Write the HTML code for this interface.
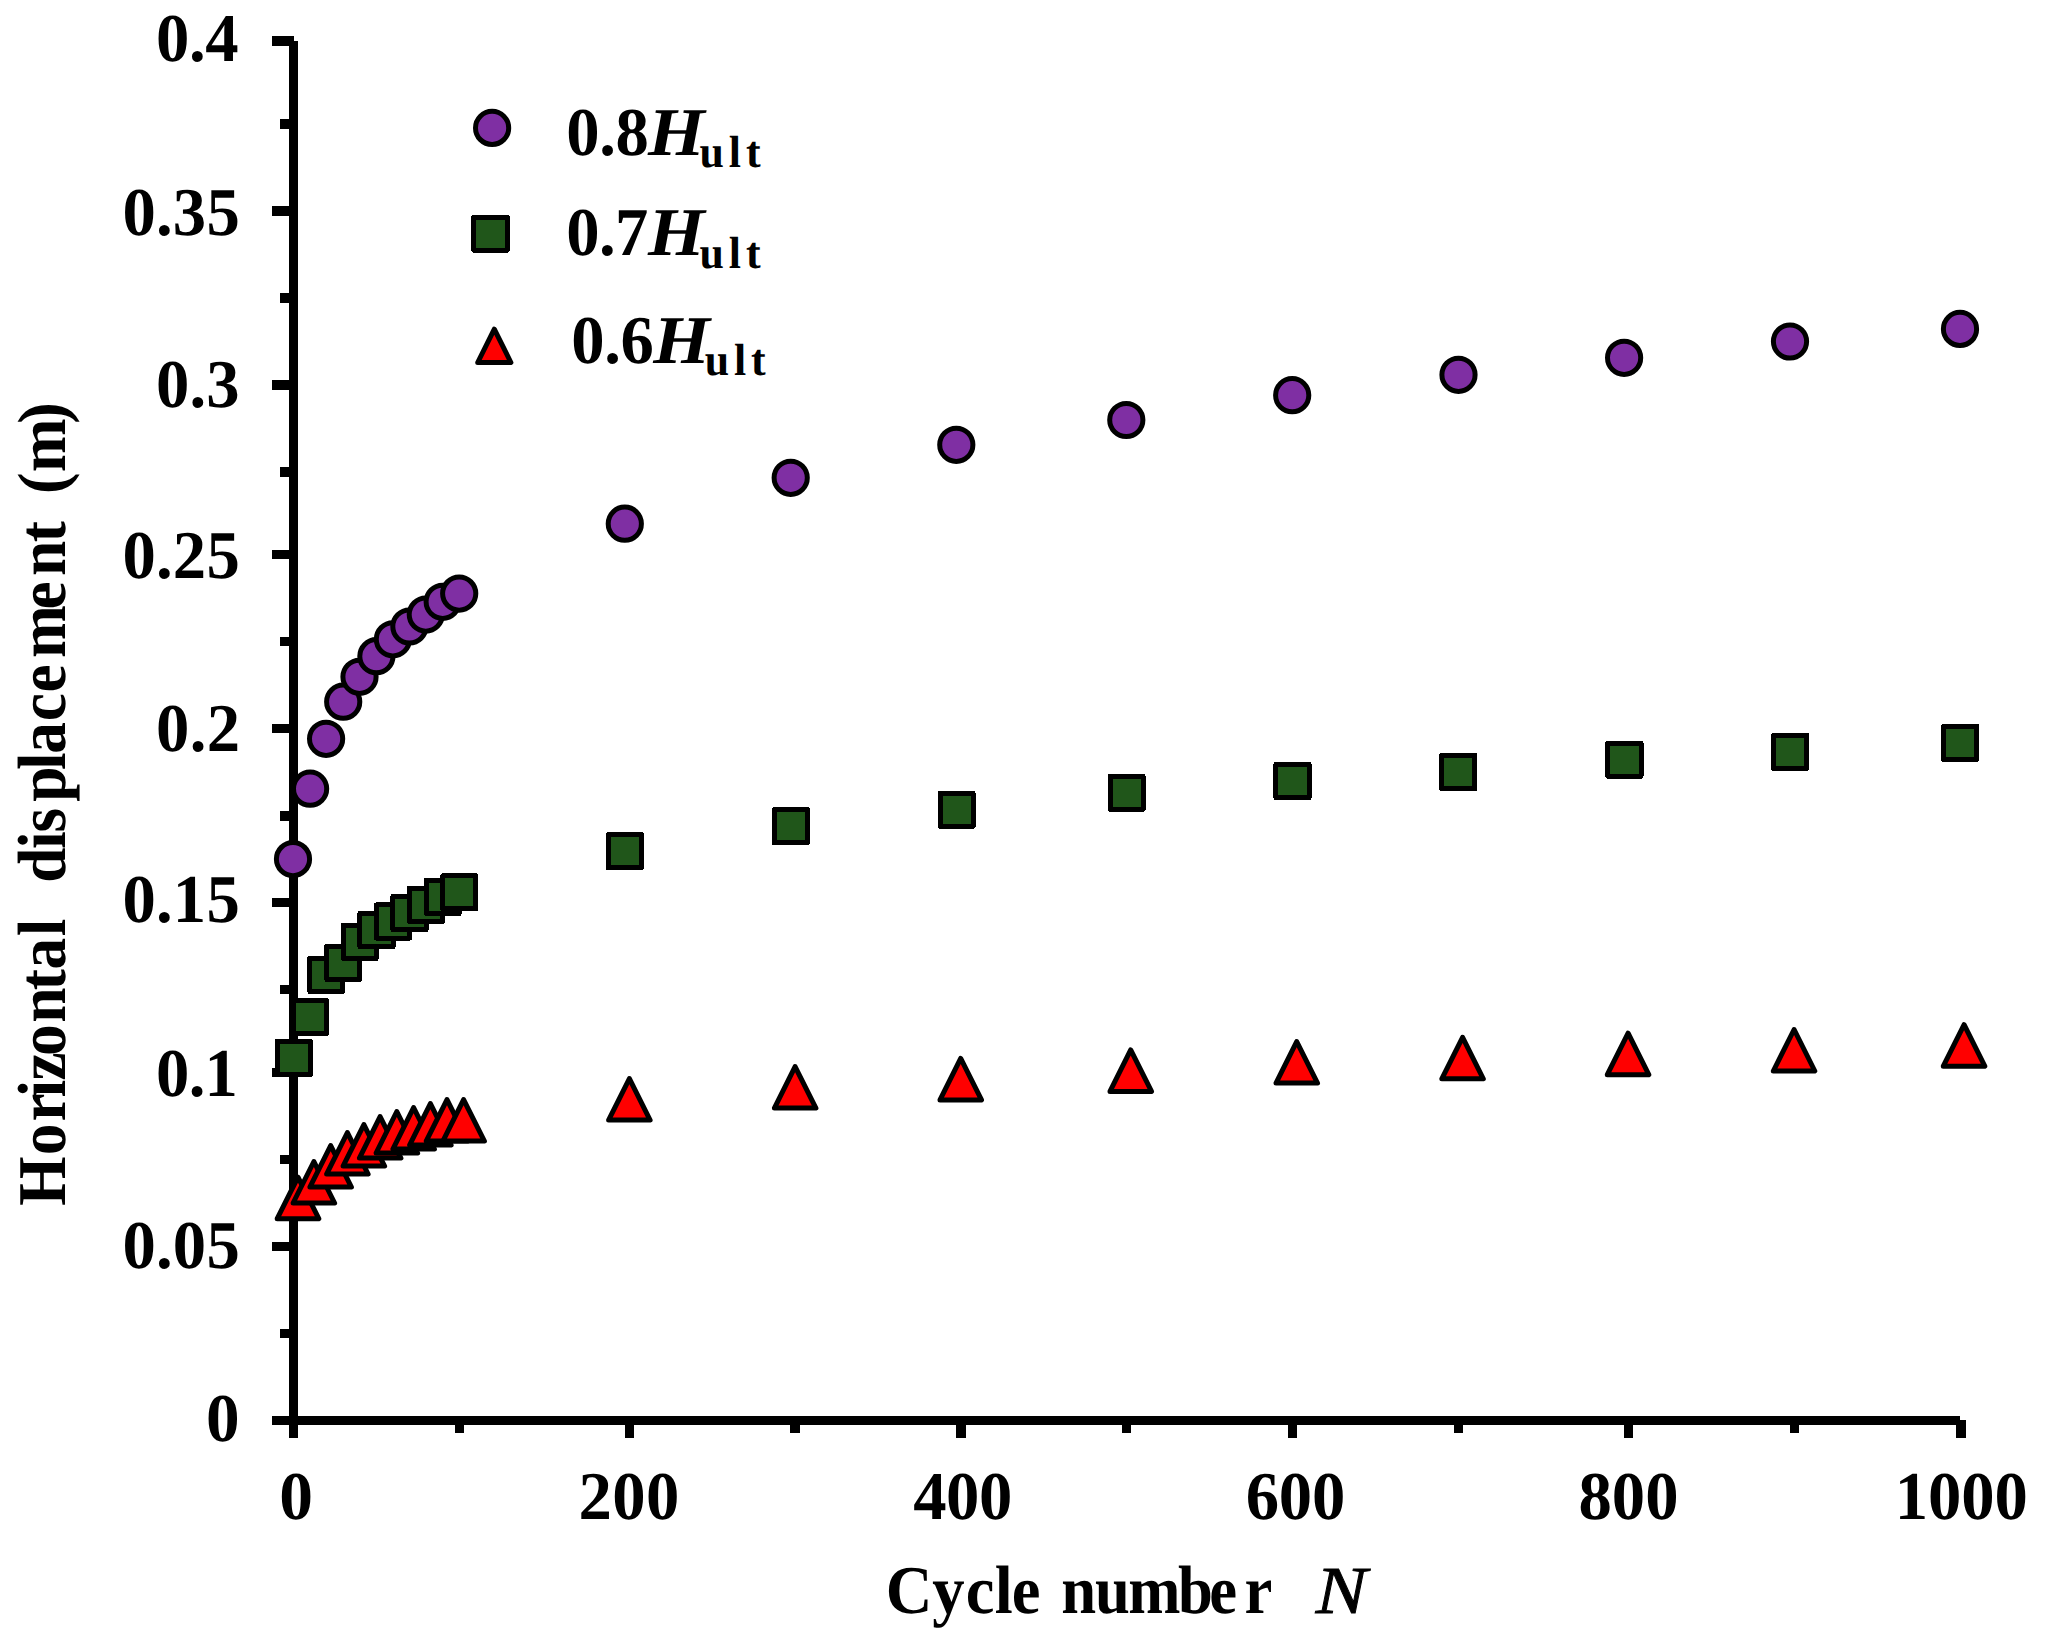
<!DOCTYPE html>
<html lang="en"><head><meta charset="utf-8"><title>Horizontal displacement vs cycle number</title>
<style>html,body{margin:0;padding:0;background:#fff}body{width:2052px;height:1650px;overflow:hidden}svg{display:block}text{font-family:"Liberation Serif", "Times New Roman", Times, serif;font-weight:bold;font-size:66.7px;fill:#000;font-kerning:none;text-rendering:geometricPrecision}</style></head><body>
<svg width="2052" height="1650" viewBox="0 0 2052 1650">
<rect width="2052" height="1650" fill="#fff"/>
<g fill="#000" shape-rendering="crispEdges">
<rect x="289.4" y="41.0" width="8.7" height="1397.0"/>
<rect x="272.3" y="1416.1" width="1687.7" height="8.9"/>
<rect x="272.3" y="36.4" width="21.7" height="9.5"/>
<rect x="280.0" y="119.2" width="14.0" height="9.5"/>
<rect x="272.3" y="206.1" width="21.7" height="9.5"/>
<rect x="280.0" y="293.1" width="14.0" height="9.5"/>
<rect x="272.3" y="380.2" width="21.7" height="9.5"/>
<rect x="280.0" y="467.1" width="14.0" height="9.5"/>
<rect x="272.3" y="549.6" width="21.7" height="9.5"/>
<rect x="280.0" y="636.5" width="14.0" height="9.5"/>
<rect x="272.3" y="723.8" width="21.7" height="9.5"/>
<rect x="280.0" y="811.0" width="14.0" height="9.5"/>
<rect x="272.3" y="897.9" width="21.7" height="9.5"/>
<rect x="280.0" y="984.8" width="14.0" height="9.5"/>
<rect x="272.3" y="1067.5" width="21.7" height="9.5"/>
<rect x="280.0" y="1154.8" width="14.0" height="9.5"/>
<rect x="272.3" y="1241.7" width="21.7" height="9.5"/>
<rect x="280.0" y="1328.8" width="14.0" height="9.5"/>
<rect x="272.3" y="1415.8" width="21.7" height="9.5"/>
<rect x="288.9" y="1420.0" width="9.5" height="18.0"/>
<rect x="454.8" y="1420.0" width="9.5" height="13.0"/>
<rect x="624.6" y="1420.0" width="9.5" height="18.0"/>
<rect x="790.2" y="1420.0" width="9.5" height="13.0"/>
<rect x="956.1" y="1420.0" width="9.5" height="18.0"/>
<rect x="1121.8" y="1420.0" width="9.5" height="13.0"/>
<rect x="1287.8" y="1420.0" width="9.5" height="18.0"/>
<rect x="1453.8" y="1420.0" width="9.5" height="13.0"/>
<rect x="1623.7" y="1420.0" width="9.5" height="18.0"/>
<rect x="1789.5" y="1420.0" width="9.5" height="13.0"/>
<rect x="1956.0" y="1420.0" width="9.5" height="18.0"/>
</g>
<text transform="translate(158.60,61.30) scale(1.0000,1.0250)" x="-2.54 30.36 46.59">0.4</text>
<text transform="translate(125.00,235.30) scale(1.0000,1.0250)" x="-2.54 31.00 47.86 81.39">0.35</text>
<text transform="translate(158.60,407.30) scale(1.0000,1.0250)" x="-2.54 30.88 47.63">0.3</text>
<text transform="translate(125.00,578.30) scale(1.0000,1.0250)" x="-2.54 31.00 47.86 81.39">0.25</text>
<text transform="translate(158.60,751.30) scale(1.0000,1.0250)" x="-2.54 31.18 48.22">0.2</text>
<text transform="translate(125.00,922.30) scale(1.0000,1.0250)" x="-2.54 31.00 47.86 81.39">0.15</text>
<text transform="translate(158.60,1095.80) scale(1.0000,1.0250)" x="-2.54 30.07 46.00">0.1</text>
<text transform="translate(125.00,1268.30) scale(1.0000,1.0250)" x="-2.54 31.00 47.86 81.39">0.05</text>
<text transform="translate(208.60,1440.80) scale(1.0082,1.0250)" x="-2.54">0</text>
<text transform="translate(281.80,1518.90) scale(1.0117,1.0250)" x="-2.54">0</text>
<text transform="translate(581.30,1518.90) scale(1.0000,1.0250)" x="-2.80 30.94 64.69">200</text>
<text transform="translate(914.20,1518.90) scale(1.0000,1.0250)" x="-0.91 31.89 64.69">400</text>
<text transform="translate(1248.00,1518.90) scale(1.0000,1.0250)" x="-2.28 30.86 63.99">600</text>
<text transform="translate(1580.70,1518.90) scale(1.0000,1.0250)" x="-2.21 31.14 64.49">800</text>
<text transform="translate(1900.00,1518.90) scale(1.0000,1.0250)" x="-5.34 27.94 61.21 94.49">1000</text>
<text transform="translate(888.80,1613.00) scale(0.9700,1.0250)" x="-3.26 44.81 79.27 109.11 126.69">Cycle</text>
<text transform="translate(1062.80,1613.00) scale(0.9400,1.0250)" x="-1.79 34.20 69.59 122.66 155.81 193.21">number</text>
<text transform="translate(1315.30,1613.00) scale(1.1504,1.0100)" x="0.49" style="font-style:italic;font-weight:normal;" stroke="#000" stroke-width="0.9">N</text>
<text transform="translate(65.20,1204.80) rotate(-90) scale(0.9500,1.0250)" x="-1.14 52.20 87.68 112.85 130.91 156.72 191.58 225.98 247.64 282.70">Horizontal</text>
<text transform="translate(65.20,880.30) rotate(-90) scale(0.9500,1.0250)" x="-2.70 32.96 50.30 82.73 116.07 133.11 167.40 197.72 233.89 285.09 320.42 355.87">displacement</text>
<text transform="translate(65.20,491.10) rotate(-90) scale(0.9700,1.0250)" x="-2.93 19.34 69.50">(m)</text>
<g stroke="#000" stroke-width="5.0" stroke-linejoin="round">
<g fill="#7F2FA3"><circle cx="492.1" cy="127.9" r="16.6"/></g>
<g fill="#20561A" shape-rendering="crispEdges"><rect x="473.8" y="217.5" width="33.5" height="32.6"/></g>
<g fill="#FF0000" stroke-width="5"><path d="M494.3 329.2L510.9 362.5L477.7 362.5Z"/></g>
</g>
<text transform="translate(568.70,154.70) scale(1,1.0250)"><tspan x="-2.54 30.50 46.86">0.8</tspan><tspan x="79.43" style="font-style:italic" textLength="56.81" lengthAdjust="spacingAndGlyphs">H</tspan><tspan x="130.84 160.16 177.27" y="12.20" style="font-size:43.9px">ult</tspan></text>
<text transform="translate(568.70,254.90) scale(1,1.0250)"><tspan x="-2.54 30.21 46.28">0.7</tspan><tspan x="79.43" style="font-style:italic" textLength="56.81" lengthAdjust="spacingAndGlyphs">H</tspan><tspan x="130.84 160.16 177.27" y="12.68" style="font-size:43.9px">ult</tspan></text>
<text transform="translate(573.80,362.70) scale(1,1.0250)"><tspan x="-2.54 30.37 46.60">0.6</tspan><tspan x="79.43" style="font-style:italic" textLength="56.81" lengthAdjust="spacingAndGlyphs">H</tspan><tspan x="130.84 160.16 177.27" y="12.00" style="font-size:43.9px">ult</tspan></text>
<g stroke="#000" stroke-width="5.0" stroke-linejoin="round">
<g fill="#7F2FA3">
<circle cx="293.0" cy="859.1" r="16.6"/>
<circle cx="310.1" cy="788.7" r="16.6"/>
<circle cx="326.1" cy="738.8" r="16.6"/>
<circle cx="343.2" cy="701.7" r="16.6"/>
<circle cx="359.5" cy="676.8" r="16.6"/>
<circle cx="376.4" cy="656.2" r="16.6"/>
<circle cx="392.9" cy="639.3" r="16.6"/>
<circle cx="409.4" cy="626.5" r="16.6"/>
<circle cx="425.8" cy="614.6" r="16.6"/>
<circle cx="442.7" cy="601.8" r="16.6"/>
<circle cx="459.2" cy="593.6" r="16.6"/>
<circle cx="624.8" cy="523.7" r="16.6"/>
<circle cx="790.7" cy="477.8" r="16.6"/>
<circle cx="956.3" cy="444.8" r="16.6"/>
<circle cx="1126.3" cy="420.0" r="16.6"/>
<circle cx="1292.2" cy="395.2" r="16.6"/>
<circle cx="1458.5" cy="374.8" r="16.6"/>
<circle cx="1624.1" cy="357.8" r="16.6"/>
<circle cx="1790.0" cy="341.5" r="16.6"/>
<circle cx="1960.0" cy="328.9" r="16.6"/>
</g>
<g fill="#20561A" shape-rendering="crispEdges">
<rect x="277.1" y="1041.5" width="33.1" height="33.1"/>
<rect x="293.2" y="1000.2" width="33.1" height="33.1"/>
<rect x="309.8" y="958.2" width="33.1" height="33.1"/>
<rect x="326.8" y="946.2" width="33.1" height="33.1"/>
<rect x="343.1" y="925.2" width="33.1" height="33.1"/>
<rect x="359.9" y="913.4" width="33.1" height="33.1"/>
<rect x="376.4" y="904.9" width="33.1" height="33.1"/>
<rect x="392.9" y="896.4" width="33.1" height="33.1"/>
<rect x="409.3" y="888.2" width="33.1" height="33.1"/>
<rect x="426.1" y="880.2" width="33.1" height="33.1"/>
<rect x="442.8" y="875.8" width="33.1" height="33.1"/>
<rect x="608.2" y="834.6" width="33.1" height="33.1"/>
<rect x="774.2" y="809.6" width="33.1" height="33.1"/>
<rect x="940.0" y="793.2" width="33.1" height="33.1"/>
<rect x="1110.0" y="776.2" width="33.1" height="33.1"/>
<rect x="1275.9" y="764.4" width="33.1" height="33.1"/>
<rect x="1441.8" y="755.5" width="33.1" height="33.1"/>
<rect x="1607.9" y="743.2" width="33.1" height="33.1"/>
<rect x="1773.5" y="735.2" width="33.1" height="33.1"/>
<rect x="1943.5" y="726.2" width="33.1" height="33.1"/>
</g>
<g fill="#FF0000" stroke-width="5">
<path d="M298.0 1177.2L318.8 1218.7L277.2 1218.7Z"/>
<path d="M313.9 1161.5L334.6 1203.0L293.1 1203.0Z"/>
<path d="M330.7 1145.6L351.4 1187.1L309.9 1187.1Z"/>
<path d="M347.4 1132.6L368.1 1174.1L326.6 1174.1Z"/>
<path d="M363.9 1124.6L384.6 1166.1L343.1 1166.1Z"/>
<path d="M380.1 1116.6L400.9 1158.1L359.4 1158.1Z"/>
<path d="M396.8 1111.5L417.6 1153.0L376.1 1153.0Z"/>
<path d="M413.6 1107.6L434.4 1149.1L392.9 1149.1Z"/>
<path d="M430.4 1103.6L451.1 1145.1L409.6 1145.1Z"/>
<path d="M447.0 1099.6L467.8 1141.1L426.2 1141.1Z"/>
<path d="M463.6 1099.6L484.4 1141.1L442.9 1141.1Z"/>
<path d="M629.4 1078.6L650.1 1120.1L608.6 1120.1Z"/>
<path d="M795.1 1066.6L815.9 1108.1L774.4 1108.1Z"/>
<path d="M960.7 1058.4L981.5 1099.9L940.0 1099.9Z"/>
<path d="M1130.7 1049.9L1151.5 1091.4L1110.0 1091.4Z"/>
<path d="M1296.7 1041.6L1317.5 1083.1L1276.0 1083.1Z"/>
<path d="M1462.6 1037.3L1483.3 1078.8L1441.8 1078.8Z"/>
<path d="M1628.1 1033.2L1648.8 1074.7L1607.3 1074.7Z"/>
<path d="M1794.1 1029.5L1814.8 1071.0L1773.3 1071.0Z"/>
<path d="M1964.1 1024.7L1984.8 1066.2L1943.3 1066.2Z"/>
</g>
</g>
</svg></body></html>
